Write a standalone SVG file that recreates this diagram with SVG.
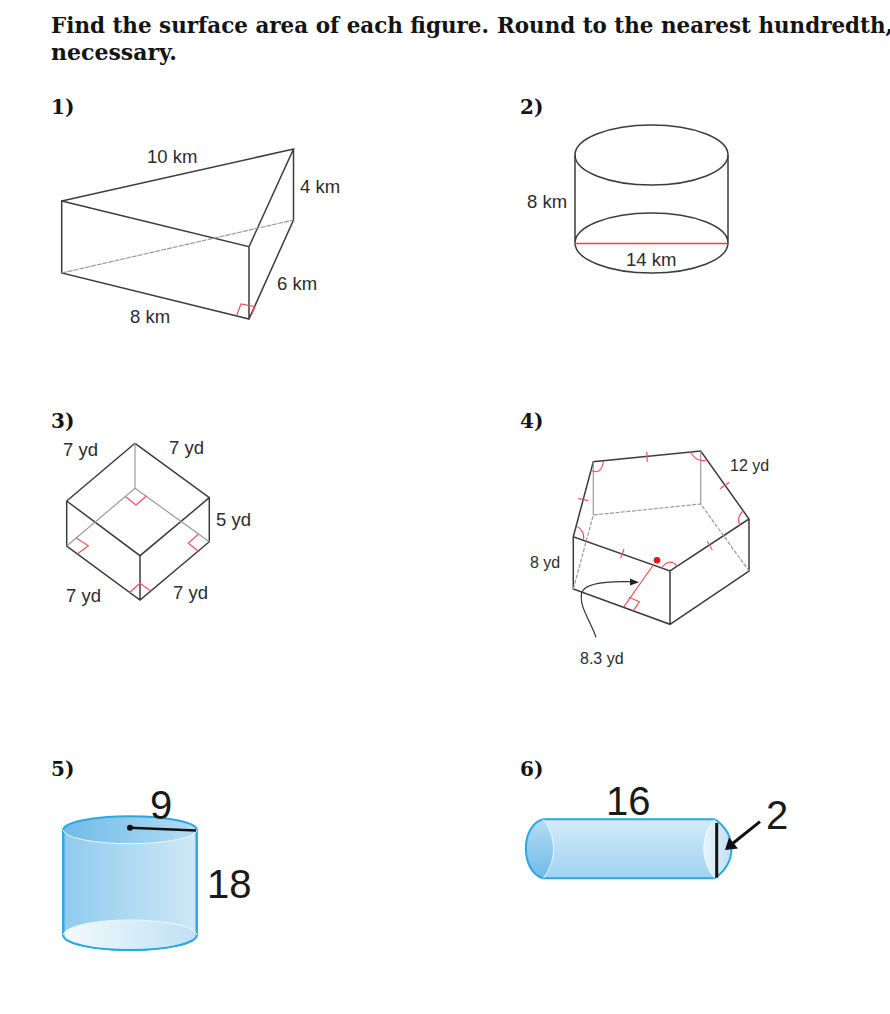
<svg xmlns="http://www.w3.org/2000/svg" width="890" height="1014" viewBox="0 0 890 1014">
<style>
.t{font-family:"DejaVu Serif",serif;font-weight:700;fill:#141414}
.q{font-size:20px}
.l{font-family:"Liberation Sans",Arial,sans-serif;font-size:18.5px;fill:#2c2c2c}
.b{font-family:"Liberation Sans",Arial,sans-serif;font-size:40px;fill:#1a1a1a}
.e{fill:none;stroke:#3c3c3c;stroke-width:1.5}
.d{fill:none;stroke:#9a9a9a;stroke-width:1.2}
.r{fill:none;stroke:#f0525a;stroke-width:1.2}
.c{stroke:#2aa8e0;stroke-width:2}
</style>
<defs>
<linearGradient id="g5" x1="0" x2="1" y1="0" y2="0"><stop offset="0" stop-color="#8fcbef"/><stop offset="1" stop-color="#cfe8f6"/></linearGradient>
<linearGradient id="g5t" x1="0" x2="1" y1="0" y2="0"><stop offset="0" stop-color="#6fbbe9"/><stop offset="1" stop-color="#b5dcf3"/></linearGradient>
<linearGradient id="g5b" x1="0" x2="1" y1="0" y2="0"><stop offset="0" stop-color="#f3fafd"/><stop offset="1" stop-color="#bfe1f4"/></linearGradient>
<linearGradient id="g6" x1="0" x2="0" y1="0" y2="1"><stop offset="0" stop-color="#d3ebf8"/><stop offset="1" stop-color="#a0d3f1"/></linearGradient>
<linearGradient id="g6l" x1="0" x2="0" y1="0" y2="1"><stop offset="0" stop-color="#b5dcf3"/><stop offset="1" stop-color="#6fbbe9"/></linearGradient>
<linearGradient id="g6r" x1="0" x2="1" y1="0" y2="0"><stop offset="0" stop-color="#e8f5fb"/><stop offset="1" stop-color="#bfe1f4"/></linearGradient>
</defs>
<rect width="890" height="1014" fill="#fff"/>
<g id="heading">
<text class="t" x="51" y="33" font-size="22.5" textLength="438" lengthAdjust="spacingAndGlyphs">Find the surface area of each figure.</text>
<text class="t" x="497" y="33" font-size="22.5" textLength="396" lengthAdjust="spacingAndGlyphs">Round to the nearest hundredth,</text>
<text class="t" x="51" y="60" font-size="22.5" textLength="126" lengthAdjust="spacingAndGlyphs">necessary.</text>
<text class="t q" x="51" y="114">1)</text><text class="t q" x="520" y="114">2)</text>
<text class="t q" x="51" y="428">3)</text><text class="t q" x="520" y="428">4)</text>
<text class="t q" x="51" y="776">5)</text><text class="t q" x="520" y="776">6)</text>
</g>
<g id="figure1">
<path class="e" d="M61.7 201L293.5 149L249 246.7L61.7 201V273L249 319V246.7M293.5 149V220L249 319"/>
<path class="d" stroke-dasharray="5 1" d="M61.7 273L293.5 220"/>
<path class="r" d="M236.7 315.3L241 304L255 306.7L252 314"/>
<text class="l" x="147" y="163">10 km</text><text class="l" x="300" y="193">4 km</text>
<text class="l" x="277" y="290">6 km</text><text class="l" x="130" y="323">8 km</text>
</g>
<g id="figure2">
<ellipse class="e" cx="651.5" cy="155" rx="76.5" ry="30"/>
<path class="e" d="M575 155V243M728 155V243M575 243A76.500 30 0 0 1 728 243M575 243A76.500 30 0 0 0 728 243"/>
<path fill="none" stroke="#f0414a" stroke-width="1.500" d="M575 243.500H728"/>
<text class="l" x="527" y="208">8 km</text><text class="l" x="626" y="266">14 km</text>
</g>
<g id="figure3">
<path class="e" d="M135 443.300L66.700 501V546L140 600L209.300 541.700V497.700L135 443.300M66.700 501L140 555.700L209.300 497.700M140 555.700V600"/>
<path class="d" d="M135 443.300V488.300M66.700 546L135 488.300L209.300 541.700"/>
<path class="r" d="M125.700 496.700L136 505L146.700 495.700M76 537.700L88.300 545.700L77.300 554M198.300 534.300L188.300 543.300L199.300 551.700M129.300 592.700L140 583.300L151 591"/>
<text class="l" x="63" y="456">7 yd</text><text class="l" x="169" y="454">7 yd</text>
<text class="l" x="216" y="526">5 yd</text><text class="l" x="66" y="602">7 yd</text><text class="l" x="173" y="599">7 yd</text>
</g>
<g id="figure4">
<path class="e" d="M573.300 536.700L593.300 461.700L700.700 451L749 519L670 571L573.300 536.700V589L670 624.300L749 571V519M670 571V624.300"/>
<path class="d" d="M593.300 461.700V515M700.700 451V504"/>
<path class="d" stroke-dasharray="4 1.500" d="M573.300 589L593.300 515L700.700 504L749 571"/>
<path class="r" d="M653.300 565L624 606.700M629 597.300L639.300 601.700L633.300 611M646.700 451.700L647.300 461.700M720 488.700L729.300 482.300M578.300 498.300L588.300 500.700M620.700 558.300L624 549M707.300 541.300L712.300 550M590.700 470Q601 476 603.500 461M690.700 452.300Q697 463 706.700 460M743.300 510.700Q736 518 740 525M577.300 526.700Q585 531 583.300 540M661.700 567.700Q670 557 677.700 566.700"/>
<circle cx="657" cy="560.300" r="3.300" fill="#e8141c"/>
<path fill="none" stroke="#333" stroke-width="1.200" d="M596 637.300C590 620 578 605 582 592C586 582 610 581 632 581.700"/>
<path fill="#222" d="M639 582.300L630 578.500V585.500Z"/>
<text class="l" x="530" y="568" style="font-size:16px">8 yd</text><text class="l" x="730" y="471" style="font-size:16px">12 yd</text>
<text class="l" x="580" y="664" style="font-size:16px">8.3 yd</text>
</g>
<g id="figure5">
<path fill="url(#g5)" class="c" d="M63.300 830V935A66.700 15 0 0 0 196.700 935V830Z"/>
<ellipse cx="130" cy="935" rx="66.700" ry="15" fill="url(#g5b)"/>
<path fill="none" class="c" d="M63.300 830V935A66.700 15 0 0 0 196.700 935V830"/>
<ellipse cx="130" cy="830" rx="66.700" ry="13.700" fill="url(#g5t)" stroke="none"/>
<path fill="none" class="c" d="M63.300 830A66.700 13.700 0 0 1 196.700 830"/>
<path fill="none" stroke="#eef8fc" stroke-width="1" d="M63.300 830A66.700 13.700 0 0 0 196.700 830M63.300 935A66.700 15 0 0 1 196.700 935"/>
<path stroke="#111" stroke-width="2.500" d="M130 827.700L196 830.500"/>
<circle cx="130" cy="827.700" r="3" fill="#111"/>
<text class="b" x="150" y="819">9</text><text class="b" x="207" y="898">18</text>
</g>
<g id="figure6">
<path fill="url(#g6)" d="M543.300 819.300H715V878.300H543.300Z"/>
<path fill="url(#g6l)" d="M543.300 819.300C520 825 520 872 543.300 878.300C557 860 557 838 543.300 819.300Z"/>
<path fill="url(#g6r)" d="M715 819.300C736 835 736 862 715 878.300C700 862 700 835 715 819.300Z"/>
<path fill="none" class="c" d="M715 819.300H543.300C520 825 520 872 543.300 878.300H715C737 862 737 835 715 819.300"/>
<path fill="none" stroke="#eef8fc" stroke-width="1" d="M543.300 819.300C557 838 557 860 543.300 878.300M715 819.300C700 835 700 862 715 878.300"/>
<path stroke="#111" stroke-width="3" d="M716.700 823V877.700"/>
<path stroke="#111" stroke-width="3" d="M760 821.700L732 844"/>
<path fill="#111" d="M725 850L729 837.500L738 848.500Z"/>
<text class="b" x="606" y="815">16</text><text class="b" x="766" y="829">2</text>
</g>
</svg>
